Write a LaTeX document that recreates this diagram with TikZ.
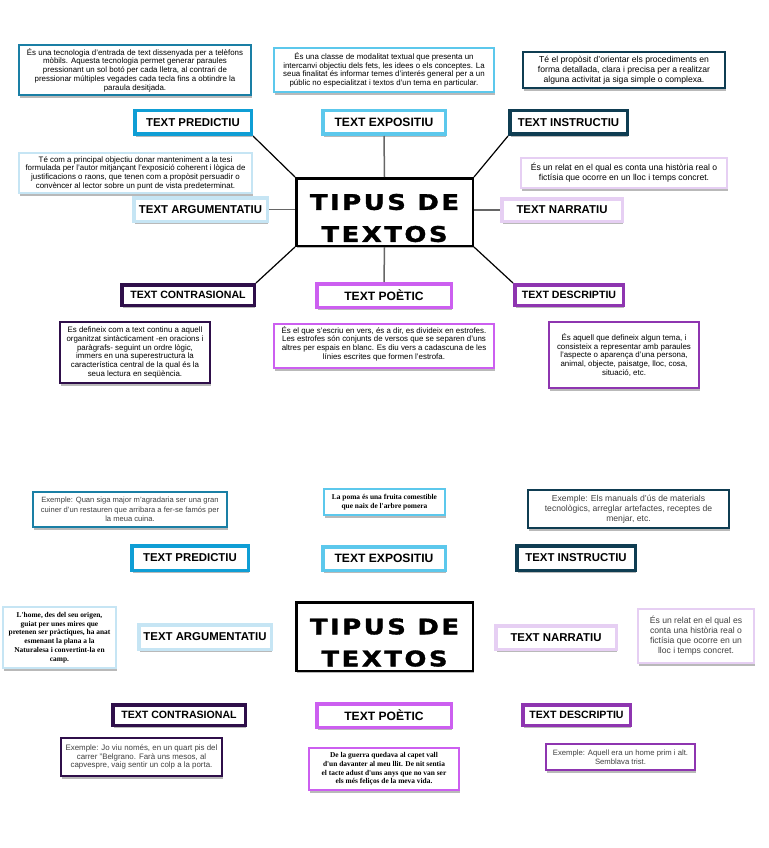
\documentclass[tikz,border=0pt]{standalone}
\usepackage{fontspec}
\usepackage{tikz}
\usetikzlibrary{shadows}
\setmainfont{Liberation Sans}
\newfontfamily\titlefont[LetterSpace=12,FakeStretch=1.2,FakeBold=1.5]{DejaVu Sans Bold}
\newfontfamily\poemfont{Liberation Serif}

\definecolor{predcol}{HTML}{0F9ED5}
\definecolor{preddark}{HTML}{1A7FA5}
\definecolor{expocol}{HTML}{5CC8EC}
\definecolor{instcol}{HTML}{0F3D52}
\definecolor{argcol}{HTML}{C6E5F4}
\definecolor{narrcol}{HTML}{E6CFF3}
\definecolor{contcol}{HTML}{2F0F4A}
\definecolor{poetcol}{HTML}{CC5FF0}
\definecolor{desccol}{HTML}{8E35B0}

\begin{document}
\begin{tikzpicture}[x=1pt,y=-1pt,
    shade box/.style={draw=#1,fill=white,inner sep=0pt,align=center,
        drop shadow={shadow xshift=1pt,shadow yshift=-2.6pt,opacity=0.55}},
    headbox/.style={shade box=#1,line width=3.5pt,font=\bfseries\fontsize{11.4}{13}\selectfont},
    wide head/.style={font=\bfseries\fontsize{12.1}{13}\selectfont},
    narrow head/.style={font=\bfseries\fontsize{10.6}{13}\selectfont},
    infobox/.style={shade box=#1,line width=2pt,text=black,font=\fontsize{7.9}{8.7}\selectfont},
    large info/.style={font=\fontsize{8.6}{10}\selectfont},
    example/.style={text=black!75},
    poembox/.style={shade box=#1,line width=2pt,font=\poemfont\bfseries\fontsize{7.4}{8.7}\selectfont},
    mainbox/.style={shade box=black,line width=2.5pt,font=\titlefont\fontsize{21.5}{32}\selectfont},
    link/.style={line width=1.2pt,black},
    graylink/.style={line width=1.5pt,black!60}]

    \useasboundingbox (0,0) rectangle (768,848);

    % upper map: the centre box
    \node[mainbox,minimum width=176.5pt,minimum height=67.5pt] (mainA) at (384.5,212) {\rule{0pt}{28pt}TIPUS DE\\TEXTOS};

    % upper map: the headings
    \node[headbox=predcol,minimum width=116.5pt,minimum height=23.5pt] (predA) at (193,122.5) {TEXT PREDICTIU};
    \node[headbox=expocol,wide head,minimum width=122.5pt,minimum height=23.5pt] (expoA) at (384,122.5) {TEXT EXPOSITIU};
    \node[headbox=instcol,minimum width=117.5pt,minimum height=23.5pt] (instA) at (568.5,122.5) {TEXT INSTRUCTIU};
    \node[headbox=argcol,minimum width=133.5pt,minimum height=23.5pt] (argA) at (200.5,209.5) {TEXT ARGUMENTATIU};
    \node[headbox=narrcol,minimum width=120.5pt,minimum height=22.5pt] (narrA) at (562,210) {TEXT NARRATIU};
    \node[headbox=contcol,narrow head,minimum width=132.5pt,minimum height=20.5pt] (contA) at (188,295) {TEXT CONTRASIONAL};
    \node[headbox=poetcol,wide head,minimum width=134.5pt,minimum height=23.5pt] (poetA) at (384,295.5) {TEXT POÈTIC};
    \node[headbox=desccol,narrow head,minimum width=108.5pt,minimum height=20.5pt] (descA) at (569,295) {TEXT DESCRIPTIU};

    % upper map: the definitions
    \node[infobox=preddark,minimum width=232pt,minimum height=50pt] (predB) at (135,70) {És una tecnologia d'entrada de text dissenyada per a telèfons\\mòbils. Aquesta tecnologia permet generar paraules\\pressionant un sol botó per cada lletra, al contrari de\\pressionar múltiples vegades cada tecla fins a obtindre la\\paraula desitjada.};
    \node[infobox=expocol,minimum width=220pt,minimum height=44pt] (expoB) at (384,70) {És una classe de modalitat textual que presenta un\\intercanvi objectiu dels fets, les idees o els conceptes. La\\seua finalitat és informar temes d'interés general per a un\\públic no especialitzat i textos d'un tema en particular.};
    \node[infobox=instcol,large info,minimum width=202pt,minimum height=36pt] (instB) at (624,70) {Té el propòsit d'orientar els procediments en\\forma detallada, clara i precisa per a realitzar\\alguna activitat ja siga simple o complexa.};
    \node[infobox=argcol,minimum width=233pt,minimum height=40pt] (argB) at (135.5,173) {Té com a principal objectiu donar manteniment a la tesi\\formulada per l'autor mitjançant l'exposició coherent i lògica de\\justificacions o raons, que tenen com a propòsit persuadir o\\convèncer al lector sobre un punt de vista predeterminat.};
    \node[infobox=narrcol,large info,minimum width=206pt,minimum height=30pt] (narrB) at (624,173) {És un relat en el qual es conta una història real o\\fictísia que ocorre en un lloc i temps concret.};
    \node[infobox=contcol,minimum width=150pt,minimum height=61pt] (contB) at (135,352.5) {Es defineix com a text continu a aquell\\organitzat sintàcticament -en oracions i\\paràgrafs- seguint un ordre lògic,\\immers en una superestructura la\\característica central de la qual és la\\seua lectura en seqüència.};
    \node[infobox=poetcol,minimum width=220pt,minimum height=44pt] (poetB) at (384,346) {És el que s'escriu en vers, és a dir, es divideix en estrofes.\\Les estrofes són conjunts de versos que se separen d'uns\\altres per espais en blanc. Es diu vers a cadascuna de les\\línies escrites que formen l'estrofa.\\[-5pt]\strut};
    \node[infobox=desccol,minimum width=150pt,minimum height=66pt] (descB) at (624,355) {És aquell que defineix algun tema, i\\consisteix a representar amb paraules\\l'aspecte o aparença d'una persona,\\animal, objecte, paisatge, lloc, cosa,\\situació, etc.};

    % upper map: the lines from the centre box
    \draw[link] (predA.south east) -- (mainA.north west);
    \draw[graylink] (expoA.south) -- (mainA.north);
    \draw[link] (instA.south west) -- (mainA.north east);
    \draw[graylink] (argA.east) -- (mainA.west |- argA.east);
    \draw[graylink] (mainA.east |- narrA.west) -- (narrA.west);
    \draw[link] (contA.north east) -- (mainA.south west);
    \draw[graylink] (mainA.south) -- (poetA.north);
    \draw[link] (descA.north west) -- (mainA.south east);

    % lower map: the centre box
    \node[mainbox,minimum width=176.5pt,minimum height=68.5pt] (mainC) at (384.5,636.5) {\rule{0pt}{28pt}TIPUS DE\\TEXTOS};

    % lower map: the headings
    \node[headbox=predcol,minimum width=116.5pt,minimum height=24.5pt] (predC) at (190,558) {TEXT PREDICTIU};
    \node[headbox=expocol,wide head,minimum width=122.5pt,minimum height=23.5pt] (expoC) at (384,558.5) {TEXT EXPOSITIU};
    \node[headbox=instcol,minimum width=118.5pt,minimum height=24.5pt] (instC) at (576,558) {TEXT INSTRUCTIU};
    \node[headbox=argcol,minimum width=132.5pt,minimum height=24.5pt] (argC) at (205,637) {TEXT ARGUMENTATIU};
    \node[headbox=narrcol,minimum width=120.5pt,minimum height=23.5pt] (narrC) at (556,637.5) {TEXT NARRATIU};
    \node[headbox=contcol,narrow head,minimum width=132.5pt,minimum height=20.5pt] (contC) at (179,715) {TEXT CONTRASIONAL};
    \node[headbox=poetcol,wide head,minimum width=134.5pt,minimum height=23.5pt] (poetC) at (384,715.5) {TEXT POÈTIC};
    \node[headbox=desccol,narrow head,minimum width=107.5pt,minimum height=20.5pt] (descC) at (576.5,715) {TEXT DESCRIPTIU};

    % lower map: the examples
    \node[infobox=preddark,example,font=\fontsize{7.6}{9.6}\selectfont,minimum width=194pt,minimum height=35pt] (predD) at (130,509.5) {Exemple: Quan siga major m'agradaria ser una gran\\cuiner d'un restauren que arribara a fer-se famós per\\la meua cuina.};
    \node[poembox=expocol,minimum width=121pt,minimum height=26pt] (expoD) at (384.5,502) {La poma és una fruita comestible\\que naix de l'arbre pomera};
    \node[infobox=instcol,example,large info,minimum width=201pt,minimum height=38pt] (instD) at (628.5,509) {Exemple: Els manuals d'ús de materials\\tecnològics, arreglar artefactes, receptes de\\menjar, etc.};
    \node[poembox=argcol,minimum width=113pt,minimum height=61pt] (argD) at (59.5,637.5) {L'home, des del seu origen,\\guiat per unes mires que\\pretenen ser pràctiques, ha anat\\esmenant la plana a la\\Naturalesa i convertint-la en\\camp.};
    \node[infobox=narrcol,example,large info,minimum width=116pt,minimum height=54pt] (narrD) at (696,636) {És un relat en el qual es\\conta una història real o\\fictísia que ocorre en un\\lloc i temps concret.};
    \node[infobox=contcol,example,minimum width=161pt,minimum height=38pt] (contD) at (141.5,757) {Exemple: Jo viu només, en un quart pis del\\carrer "Belgrano. Farà uns mesos, al\\capvespre, vaig sentir un colp a la porta.};
    \node[poembox=poetcol,minimum width=150pt,minimum height=42pt] (poetD) at (384,769) {De la guerra quedava al capet vall\\d'un davanter al meu llit. De nit sentia\\el tacte adust d'uns anys que no van ser\\els més feliços de la meva vida.};
    \node[infobox=desccol,example,font=\fontsize{7.7}{9}\selectfont,minimum width=149pt,minimum height=26pt] (descD) at (620.5,757) {Exemple: Aquell era un home prim i alt.\\Semblava trist.};

\end{tikzpicture}
\end{document}
